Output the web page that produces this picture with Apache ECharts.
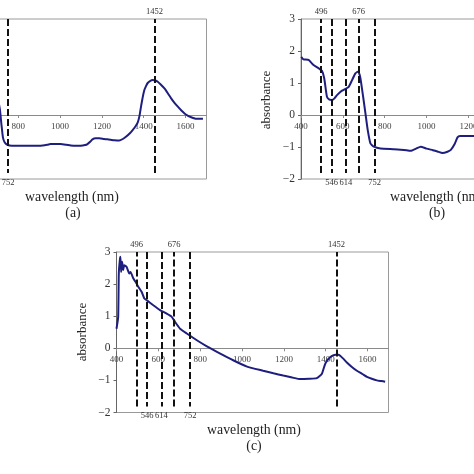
<!DOCTYPE html>
<html>
<head>
<meta charset="utf-8">
<script src="https://cdn.jsdelivr.net/npm/echarts@6/dist/echarts.min.js"></script>
<style>html,body{margin:0;padding:0;background:#fff;}#c{width:474px;height:474px;}</style>
</head>
<body>
<div id="c"></div>
<script>
// ---- data ----
const xTicks = [400, 600, 800, 1000, 1200, 1400, 1600];
const yTicks = [-2, -1, 0, 1, 2, 3];

// panel (a)
const wavelengthA = [705, 713, 720, 727, 735, 748, 770, 811, 860, 907, 940, 955, 980, 1003, 1030, 1051, 1075, 1099, 1120, 1131, 1145, 1155, 1170, 1187, 1210, 1227, 1260, 1283, 1300, 1315, 1335, 1347, 1360, 1371, 1380, 1387, 1395, 1403, 1412, 1419, 1430, 1443, 1455, 1467, 1480, 1499, 1515, 1531, 1547, 1563, 1580, 1595, 1610, 1627, 1640, 1651, 1670, 1683];
const absorbanceA = [0.45, 0.15, -0.3, -0.7, -0.85, -0.93, -0.96, -0.96, -0.96, -0.96, -0.93, -0.91, -0.91, -0.91, -0.93, -0.95, -0.96, -0.96, -0.94, -0.91, -0.83, -0.76, -0.73, -0.73, -0.75, -0.76, -0.79, -0.80, -0.75, -0.68, -0.56, -0.47, -0.36, -0.24, -0.02, 0.26, 0.55, 0.78, 0.92, 1.0, 1.06, 1.09, 1.08, 1.04, 0.96, 0.83, 0.68, 0.52, 0.38, 0.26, 0.14, 0.05, -0.02, -0.07, -0.10, -0.12, -0.12, -0.12];
const topMarkersA = [1452];
const bottomMarkersA = [752];

// panel (b)
const wavelengthB = [401, 412, 436, 460, 484, 500, 511, 524, 536, 548, 560, 572, 596, 628, 644, 660, 671, 678, 684, 697, 708, 719, 732, 748, 780, 840, 892, 924, 950, 972, 1000, 1030, 1052, 1076, 1100, 1116, 1135, 1148, 1160, 1172, 1200, 1240];
const absorbanceB = [1.82, 1.74, 1.72, 1.56, 1.46, 1.38, 1.15, 0.57, 0.48, 0.47, 0.52, 0.62, 0.76, 0.88, 1.09, 1.30, 1.35, 1.30, 1.15, 0.57, 0.05, -0.47, -0.89, -0.99, -1.05, -1.07, -1.09, -1.12, -1.05, -0.99, -1.05, -1.10, -1.14, -1.19, -1.15, -1.09, -0.90, -0.70, -0.66, -0.66, -0.66, -0.66];
const topMarkersB = [496, 676];
const bottomMarkersB = [546, 614, 752];

// panel (c)
const wavelengthC = [400, 408, 411, 416, 419, 422, 427, 432, 437, 448, 461, 467, 480, 491, 504, 520, 533, 544, 576, 608, 640, 664, 680, 704, 736, 784, 832, 880, 960, 1024, 1101, 1150, 1197, 1240, 1277, 1320, 1357, 1381, 1397, 1410, 1421, 1435, 1448, 1460, 1469, 1485, 1501, 1525, 1549, 1575, 1597, 1620, 1644, 1665, 1684];
const absorbanceC = [0.61, 0.98, 2.33, 2.75, 2.85, 2.38, 2.70, 2.44, 2.59, 2.54, 2.33, 2.38, 2.18, 2.07, 1.92, 1.76, 1.55, 1.50, 1.34, 1.19, 1.08, 0.98, 0.82, 0.61, 0.46, 0.25, 0.06, -0.11, -0.38, -0.57, -0.70, -0.78, -0.85, -0.91, -0.96, -0.95, -0.93, -0.80, -0.49, -0.35, -0.28, -0.22, -0.20, -0.20, -0.23, -0.33, -0.44, -0.58, -0.70, -0.80, -0.89, -0.95, -1.00, -1.02, -1.04];
const topMarkersC = [496, 676, 1452];
const bottomMarkersC = [546, 614, 752];

// ---- build chart ----
const SERIF = 'Liberation Serif';
const LINE_COLOR = '#1e1e7e';

function pairs(xs, ys) { return xs.map((x, i) => [x, ys[i]]); }

function markerData(top, bottom) {
  const d = [];
  top.forEach(v => d.push([{ coord: [v, -1.81], name: String(v) }, { coord: [v, 3], name: String(v), label: { distance: 3 } }]));
  bottom.forEach(v => d.push([{ coord: [v, 3], name: String(v) }, { coord: [v, -1.81], name: String(v), label: { distance: 5 } }]));
  return d;
}

const gridBoxes = [
  { left: -65.5, top: 19, width: 272, height: 160 },
  { left: 301, top: 19, width: 272, height: 160 },
  { left: 116.5, top: 252, width: 272, height: 160.5 }
];
const grids = gridBoxes.map(g => Object.assign({ show: true, borderColor: '#9a9a9a', borderWidth: 1, backgroundColor: 'transparent', containLabel: false, outerBoundsMode: 'none' }, g));

// x axis sits on the zero line: offset it up from the bottom edge by 2/5 of the grid height (y range -2..3)
const xAxes = gridBoxes.map((g, i) => ({
  gridIndex: i, type: 'value', min: 400, max: 1700, position: 'bottom',
  offset: -g.height * 2 / 5,
  axisLine: { onZero: false, lineStyle: { color: '#8a8a8a', width: 1 } },
  axisTick: { show: true, customValues: xTicks, length: 3, lineStyle: { color: '#8a8a8a' } },
  axisLabel: { customValues: xTicks, margin: 7, fontFamily: SERIF, fontSize: 9, color: '#444', formatter: v => String(v) },
  splitLine: { show: false }
}));

const yAxes = [0, 1, 2].map(i => ({
  gridIndex: i, type: 'value', min: -2, max: 3, interval: 1,
  axisLine: { show: true, onZero: false, lineStyle: { color: '#666' } },
  axisTick: { show: true, customValues: yTicks, length: 3, lineStyle: { color: '#666' } },
  axisLabel: { customValues: yTicks, margin: 6, fontFamily: SERIF, fontSize: 11.5, color: '#333',
    formatter: v => v < 0 ? '\u2212' + Math.abs(v) : String(v) },
  splitLine: { show: false }
}));

function lineSeries(i, xs, ys, top, bottom) {
  return {
    type: 'line', xAxisIndex: i, yAxisIndex: i, data: pairs(xs, ys),
    showSymbol: false, smooth: 0.15, animation: false,
    lineStyle: { color: LINE_COLOR, width: 2 },
    markLine: {
      silent: true, symbol: ['none', 'none'], animation: false,
      lineStyle: { color: '#111', type: [7, 3], width: 2 },
      label: { show: true, position: 'end', formatter: p => p.name, fontFamily: SERIF, fontSize: 8.5, color: '#333' },
      data: markerData(top, bottom)
    }
  };
}

function txt(x, y, s, size, rot) {
  return { type: 'text', x: x, y: y, rotation: rot || 0,
    style: { text: s, font: size + 'px "Liberation Serif"', fill: '#222', align: 'center', verticalAlign: 'middle' } };
}

const chart = echarts.init(document.getElementById('c'), null, { renderer: 'canvas' });
chart.setOption({
  animation: false,
  backgroundColor: '#fff',
  grid: grids,
  xAxis: xAxes,
  yAxis: yAxes,
  series: [
    lineSeries(0, wavelengthA, absorbanceA, topMarkersA, bottomMarkersA),
    lineSeries(1, wavelengthB, absorbanceB, topMarkersB, bottomMarkersB),
    lineSeries(2, wavelengthC, absorbanceC, topMarkersC, bottomMarkersC)
  ],
  graphic: [
    txt(72, 197, 'wavelength (nm)', 13.8),
    txt(73, 213, '(a)', 13.8),
    txt(437, 197, 'wavelength (nm)', 13.8),
    txt(437, 213, '(b)', 13.8),
    txt(254, 430, 'wavelength (nm)', 13.8),
    txt(254, 446, '(c)', 13.8),
    txt(267, 100, 'absorbance', 13, Math.PI / 2),
    txt(83, 332, 'absorbance', 13, Math.PI / 2)
  ]
});
</script>
</body>
</html>
